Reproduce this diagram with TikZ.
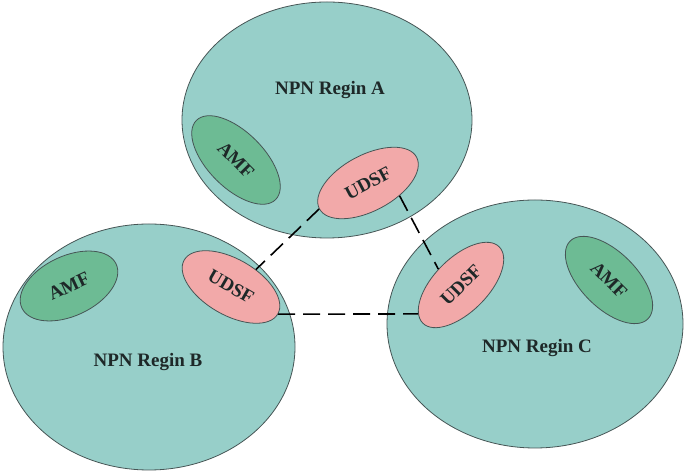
\documentclass[tikz,border=0pt]{standalone}
\usepackage{fontspec}
\setmainfont{Liberation Serif}
\usetikzlibrary{shapes.geometric}

\definecolor{regionfill}{RGB}{151,207,201}
\definecolor{amffill}{RGB}{109,187,148}
\definecolor{udsffill}{RGB}{242,169,169}
\definecolor{edgegray}{RGB}{70,85,85}
\definecolor{textdark}{RGB}{30,40,40}

\begin{document}
\begin{tikzpicture}[x=1pt, y=1pt,
    region/.style={ellipse, draw=edgegray, fill=regionfill, line width=0.8pt, inner sep=0pt},
    func/.style={ellipse, draw=edgegray, line width=0.8pt, inner sep=0pt,
        font=\fontsize{19}{19}\selectfont\bfseries, text=textdark},
    amf/.style={func, fill=amffill},
    udsf/.style={func, fill=udsffill},
    title/.style={font=\fontsize{19}{19}\selectfont\bfseries, text=textdark},
    link/.style={line width=1.6pt, dash pattern=on 17pt off 8pt}]
    \useasboundingbox (0,0) rectangle (685,473);

    % Regions
    \node[region, minimum width=290pt, minimum height=236pt] (regionA) at (327,353) {};
    \node[region, minimum width=292pt, minimum height=246pt] (regionB) at (149,126) {};
    \node[region, minimum width=296pt, minimum height=248pt] (regionC) at (535,149) {};

    % Region labels
    \node[title] (labelA) at (330,383) {NPN Regin A};
    \node[title] (labelB) at (148,111) {NPN Regin B};
    \node[title] (labelC) at (537,125) {NPN Regin C};

    % Region A functions
    \node[amf, minimum width=112pt, minimum height=56pt, rotate=-45] (amfA) at (236,313) {AMF};
    \node[udsf, minimum width=110pt, minimum height=56pt, rotate=28] (udsfA) at (368,290) {UDSF};

    % Region B functions
    \node[amf, minimum width=104pt, minimum height=60pt, rotate=25] (amfB) at (69,187) {AMF};
    \node[udsf, minimum width=108pt, minimum height=56pt, rotate=-30] (udsfB) at (231,186) {UDSF};

    % Region C functions
    \node[udsf, minimum width=108pt, minimum height=54pt, rotate=45] (udsfC) at (461,188) {UDSF};
    \node[amf, minimum width=110pt, minimum height=56pt, rotate=-45] (amfC) at (609,193) {AMF};

    % UDSF links
    \draw[link] (udsfA.west) -- (udsfB.65);
    \draw[link] (udsfA.-50) -- (udsfC.100);
    \draw[link] (udsfB.east) -- (udsfC.169);
\end{tikzpicture}
\end{document}
